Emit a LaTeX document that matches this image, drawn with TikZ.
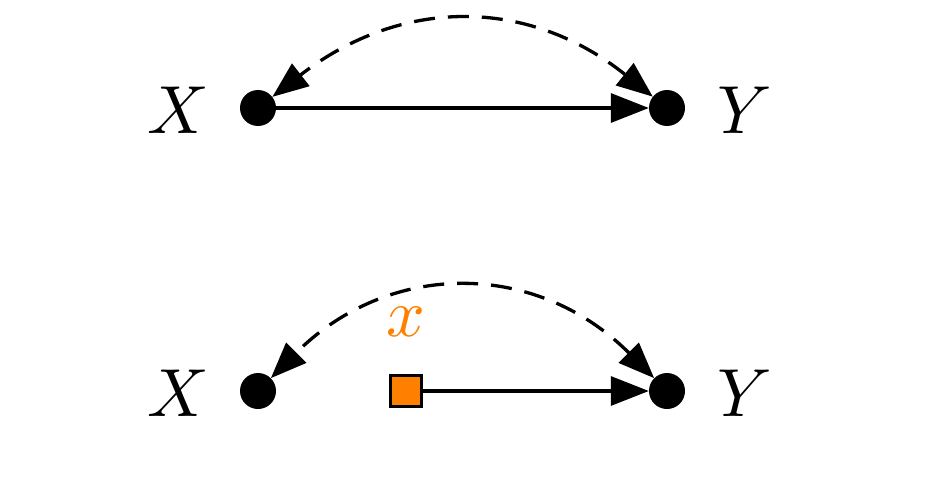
\documentclass[tikz,border=0pt]{standalone}
\DeclareFontShape{OML}{cmm}{m}{it}{<->cmmi10}{}
\usetikzlibrary{arrows.meta}
\definecolor{orng}{RGB}{255,128,0}
\tikzset{
  dot/.style={circle,fill=black,inner sep=0pt,minimum size=36pt},
  sq/.style={rectangle,draw=black,fill=orng,line width=3pt,inner sep=0pt,minimum size=31pt},
  lbl/.style={inner sep=0pt,font=\fontsize{68}{68}\selectfont},
  conn/.style={line width=3.3pt,-{Triangle[length=38pt,width=29pt]}},
  biconn/.style={line width=3.3pt,dash pattern=on 21pt off 13pt,{Triangle[length=36pt,width=28pt]}-{Triangle[length=36pt,width=28pt]}}
}
\begin{document}
\begin{tikzpicture}[x=1pt,y=-1pt]
\useasboundingbox (0,0) rectangle (928,500);
% top
\node[dot] (X1) at (258,108) {};
\node[dot] (Y1) at (667,108) {};
\node[lbl] (lx1) at (178,110) {$X$};
\node[lbl] (ly1) at (745,110) {$Y$};
\draw[conn] (X1) -- (Y1);
\draw[biconn] (Y1) .. controls (528,-3) and (401,-3) .. (X1);
% bottom
\node[dot] (X2) at (258,391) {};
\node[dot] (Y2) at (667,391) {};
\node[sq] (S) at (406,391) {};
\node[lbl] (lx2) at (178,393) {$X$};
\node[lbl] (ly2) at (745,393) {$Y$};
\node[lbl,text=orng] (lx) at (406,322) {$x$};
\draw[conn] (S) -- (Y2);
\draw[biconn] (Y2) .. controls (536,260) and (389,260) .. (X2);
\end{tikzpicture}
\end{document}
